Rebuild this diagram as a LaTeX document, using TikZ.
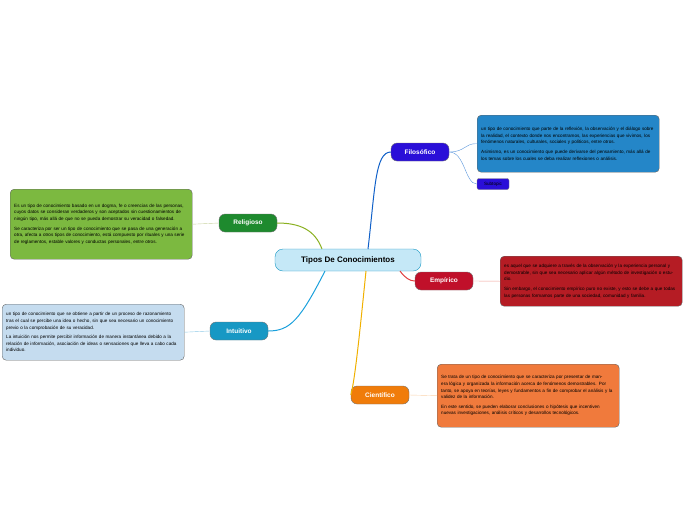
\documentclass[tikz,border=0pt]{standalone}
\usepackage{fontspec}
\setmainfont{Liberation Sans}
\begin{document}
\begin{tikzpicture}[x=1pt,y=-1pt]
  \tikzstyle{topic}=[rounded corners=6pt, draw=black!55, text=white, font=\fontsize{6.5}{8}\selectfont\bfseries, minimum width=58pt, minimum height=18pt, inner sep=2pt]
  \tikzstyle{note}=[rounded corners=4pt, draw=black!60, align=left, text width=174pt, inner sep=4pt, font=\fontsize{4.6}{6.6}\selectfont, anchor=north west]
  \tikzstyle{branch}=[line width=1pt]
  \definecolor{cmain}{HTML}{C5E8F7}
  \definecolor{cfilo}{HTML}{2A0FD8}
  \definecolor{creli}{HTML}{1E8A2E}
  \definecolor{cempi}{HTML}{C0102A}
  \definecolor{cintu}{HTML}{1798C4}
  \definecolor{ccien}{HTML}{F07C0A}
  \useasboundingbox (0,0) rectangle (696,520);

  \node[rounded corners=8pt, draw=cintu, fill=cmain, minimum width=146pt, minimum height=22pt, font=\fontsize{8}{9}\selectfont\bfseries] (main) at (348,260) {Tipos De Conocimientos};

  \node[topic, fill=cfilo] (filo) at (420,152) {Filosófico};
  \node[topic, fill=creli] (reli) at (248,223) {Religioso};
  \node[topic, fill=cempi] (empi) at (444,281) {Empírico};
  \node[topic, fill=cintu] (intu) at (239,331) {Intuitivo};
  \node[topic, fill=ccien] (cien) at (380,395) {Científico};

  \node[note, fill={rgb,255:red,36;green,134;blue,200}, minimum height=57pt] (filonote) at (477,115) {un tipo de conocimiento que parte de la reflexión, la observación y el diálogo sobre la realidad, el contexto donde nos encontramos, las experiencias que vivimos, los fenómenos naturales, culturales, sociales y políticos, entre otros.\\[3pt]Asimismo, es un conocimiento que puede derivarse del pensamiento, más allá de los temas sobre los cuales se deba realizar reflexiones o análisis.};
  \node[rounded corners=2pt, draw=black!50, fill=cfilo, font=\fontsize{4.6}{5}\selectfont, minimum width=32pt, minimum height=11pt, inner sep=1pt] (sub) at (493,184) {Subtopic};
  \node[note, fill={rgb,255:red,124;green,185;blue,64}, minimum height=70pt] (relinote) at (10,189) {Es un tipo de conocimiento basado en un dogma, fe o creencias de las personas, cuyos datos se consideran verdaderos y son aceptados sin cuestionamientos de ningún tipo, más allá de que no se pueda demostrar su veracidad o falsedad.\\[3pt]Se caracteriza por ser un tipo de conocimiento que se pasa de una generación a otra, afecta a otros tipos de conocimiento, está compuesto por rituales y una serie de reglamentos, estable valores y conductas personales, entre otros.};
  \node[note, fill={rgb,255:red,197;green,220;blue,239}, minimum height=56pt] (intunote) at (2,304) {un tipo de conocimiento que se obtiene a partir de un proceso de razonamiento tras el cual se percibe una idea o hecho, sin que sea necesario un conocimiento previo o la comprobación de su veracidad.\\[3pt]La intuición nos permite percibir información de manera instantánea debido a la relación de información, asociación de ideas o sensaciones que lleva a cabo cada individuo.};
  \node[note, fill={rgb,255:red,181;green,28;blue,36}, minimum height=50pt] (empinote) at (500,256) {es aquel que se adquiere a través de la observación y la experiencia personal y demostrable, sin que sea necesario aplicar algún método de investigación o estudio.\\[3pt]Sin embargo, el conocimiento empírico puro no existe, y esto se debe a que todas las personas formamos parte de una sociedad, comunidad y familia.};
  \node[note, fill={rgb,255:red,240;green,122;blue,60}, minimum height=63pt] (ciennote) at (437,364) {Se trata de un tipo de conocimiento que se caracteriza por presentar de manera lógica y organizada la información acerca de fenómenos demostrables. Por tanto, se apoya en teorías, leyes y fundamentos a fin de comprobar el análisis y la validez de la información.\\[3pt]En este sentido, se pueden elaborar conclusiones o hipótesis que incentiven nuevas investigaciones, análisis críticos y desarrollos tecnológicos.};

  \draw[branch, draw={rgb,255:red,16;green,96;blue,200}] (368,249) .. controls (375,190) and (375,152) .. (filo.west);
  \draw[branch, draw={rgb,255:red,138;green,176;blue,32}] (322,249) .. controls (315,230) and (300,223) .. (reli.east);
  \draw[branch, draw={rgb,255:red,224;green,64;blue,64}] (400,271) .. controls (405,278) and (410,281) .. (empi.west);
  \draw[branch, draw={rgb,255:red,26;green,160;blue,220}] (325,271) .. controls (300,320) and (290,331) .. (intu.east);
  \draw[branch, draw={rgb,255:red,240;green,176;blue,0}] (366,271) .. controls (360,330) and (355,380) .. (cien.west);

  \draw[draw={rgb,255:red,90;green,150;blue,220}, line width=0.4pt] (filo.east) .. controls (465,152) and (465,143) .. (filonote.west);
  \draw[draw={rgb,255:red,90;green,150;blue,220}, line width=0.4pt] (filo.east) .. controls (465,152) and (465,184) .. (sub.west);
  \draw[draw={rgb,255:red,200;green,210;blue,160}, line width=0.4pt] (reli.west) -- (relinote.east);
  \draw[draw={rgb,255:red,140;green,200;blue,230}, line width=0.4pt] (intu.west) -- (intunote.east);
  \draw[draw={rgb,255:red,240;green,160;blue,150}, line width=0.4pt] (empi.east) -- (empinote.west);
  \draw[draw={rgb,255:red,250;green,210;blue,170}, line width=0.4pt] (cien.east) -- (ciennote.west);
\end{tikzpicture}
\end{document}
